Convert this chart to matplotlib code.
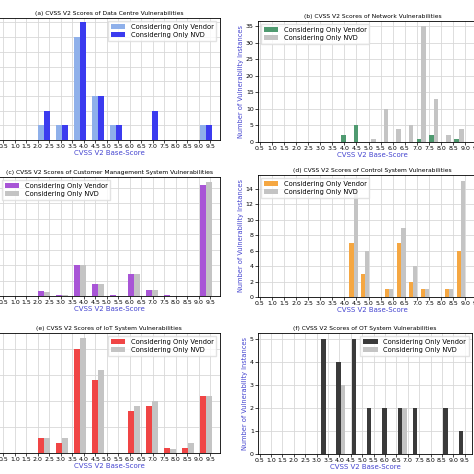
import matplotlib
matplotlib.use("Agg")
import matplotlib.pyplot as plt
import numpy as np

ticks = [0.5 + 0.5 * i for i in range(19)]

# (a) Data Centre
a_c = [2.26, 3.04, 3.83, 4.61, 5.40, 6.97, 9.32]
a_v = [1, 1, 7, 3, 1, 0, 1]
a_n = [2, 1, 8, 3, 1, 2, 1]
# (b) Network
b_c = [4.06, 4.58, 5.10, 5.62, 6.14, 6.66, 7.18, 7.70, 8.22, 8.74]
b_v = [2, 5, 0, 0, 0, 0, 1, 2, 0, 1]
b_n = [0, 0, 1, 10, 4, 5, 35, 13, 2, 4]
# (c) Customer Management
c_c = [2.26, 3.04, 3.83, 4.61, 5.40, 6.18, 6.97, 7.75, 8.54, 9.32]
c_v = [3, 0.8, 20, 7.5, 0.4, 14.5, 3.8, 0.4, 0.2, 71.5]
c_n = [2.8, 0.6, 20, 7.5, 0.3, 14.5, 3.8, 0.2, 0.1, 74]
# (d) Control System
d_c = [4.38, 4.87, 5.86, 6.36, 6.85, 7.35, 8.34, 8.84]
d_v = [7, 3, 1, 7, 2, 1, 1, 6]
d_n = [14, 6, 1, 9, 4, 1, 1, 15]
# (e) IoT
e_c = [2.26, 3.04, 3.83, 4.61, 6.18, 6.97, 7.75, 8.54, 9.32]
e_v = [2.9, 1.9, 20, 14, 8, 9, 0.9, 0.9, 11]
e_n = [2.9, 2.9, 22, 16, 9, 10, 0.8, 1.9, 11]
# (f) OT
f_c = [3.40, 4.06, 4.73, 5.40, 6.07, 6.75, 7.42, 8.76, 9.43]
f_v = [5, 4, 5, 2, 2, 2, 2, 2, 1]
f_n = [0, 3, 0, 0, 0, 2, 0, 0, 0]

panels = [
    ("(a) CVSS V2 Scores of Data Centre Vulnerabilities", a_c, a_v, a_n, "#8fb0ea", "#3b3bef", 0.26,
     (-1.3, 219.5, 18, 140), (0.3, 9.9), (0, 8.3), 1, "upper right", False),
    ("(b) CVSS V2 Scores of Network Vulnerabilities", b_c, b_v, b_n, "#4f9a70", "#c4c4c4", 0.19,
     (257.8, 487, 21, 142), (0.42, 9.9), (0, 36.5), 5, "upper left", True),
    ("(c) CVSS V2 Scores of Customer Management System Vulnerabilities", c_c, c_v, c_n, "#a855d6", "#c4c4c4", 0.26,
     (-1.3, 219.5, 177, 296), (0.3, 9.9), (0, 77), 10, "upper left", False),
    ("(d) CVSS V2 Scores of Control System Vulnerabilities", d_c, d_v, d_n, "#f5a742", "#c4c4c4", 0.17,
     (257.8, 487, 175, 297), (0.42, 9.9), (0, 15.8), 2, "upper left", True),
    ("(e) CVSS V2 Scores of IoT System Vulnerabilities", e_c, e_v, e_n, "#f04545", "#c4c4c4", 0.26,
     (-1.3, 219.5, 333, 453), (0.3, 9.9), (0, 23), 5, "upper right", False),
    ("(f) CVSS V2 Scores of OT System Vulnerabilities", f_c, f_v, f_n, "#3a3a3a", "#c4c4c4", 0.2,
     (257.9, 472, 333, 454), (0.42, 9.82), (0, 5.25), 1, "upper right", True),
]

W = 474.0
fig = plt.figure(figsize=(4.74, 4.74), dpi=100)
lab_col = "#4545d0"
for title, cs, vs, ns, cv, cn, w, (L, R, T, B), xl, yl, ystep, loc, ylab in panels:
    ax = fig.add_axes([L / W, 1 - B / W, (R - L) / W, (B - T) / W])
    ax.set_axisbelow(True)
    ax.grid(True, color="#d8d8d8", linewidth=0.6)
    ax.bar(cs, vs, width=-w, align="edge", color=cv, label="Considering Only Vendor")
    ax.bar(cs, ns, width=w, align="edge", color=cn, label="Considering Only NVD")
    ax.set_xlim(*xl)
    ax.set_ylim(*yl)
    ax.set_xticks(ticks)
    ax.set_xticklabels([f"{t:.1f}" for t in ticks])
    ax.set_yticks(np.arange(0, yl[1], ystep))
    if not ylab:
        ax.tick_params(axis="y", labelleft=False)
    ax.tick_params(labelsize=4.5, length=2, width=0.5, pad=1)
    for s in ax.spines.values():
        s.set_linewidth(0.6)
    ax.set_title(title, fontsize=4.3, pad=2)
    ax.set_xlabel("CVSS V2 Base-Score", fontsize=5, color=lab_col, labelpad=0.5)
    if ylab:
        ax.set_ylabel("Number of Vulnerability Instances", fontsize=4.8, color=lab_col, labelpad=1)
    ax.legend(loc=loc, fontsize=4.8, handlelength=2.2, borderpad=0.4, labelspacing=0.3,
              frameon=True, fancybox=False, framealpha=0.8, edgecolor="#dddddd")

fig.savefig("out.png", dpi=100)
